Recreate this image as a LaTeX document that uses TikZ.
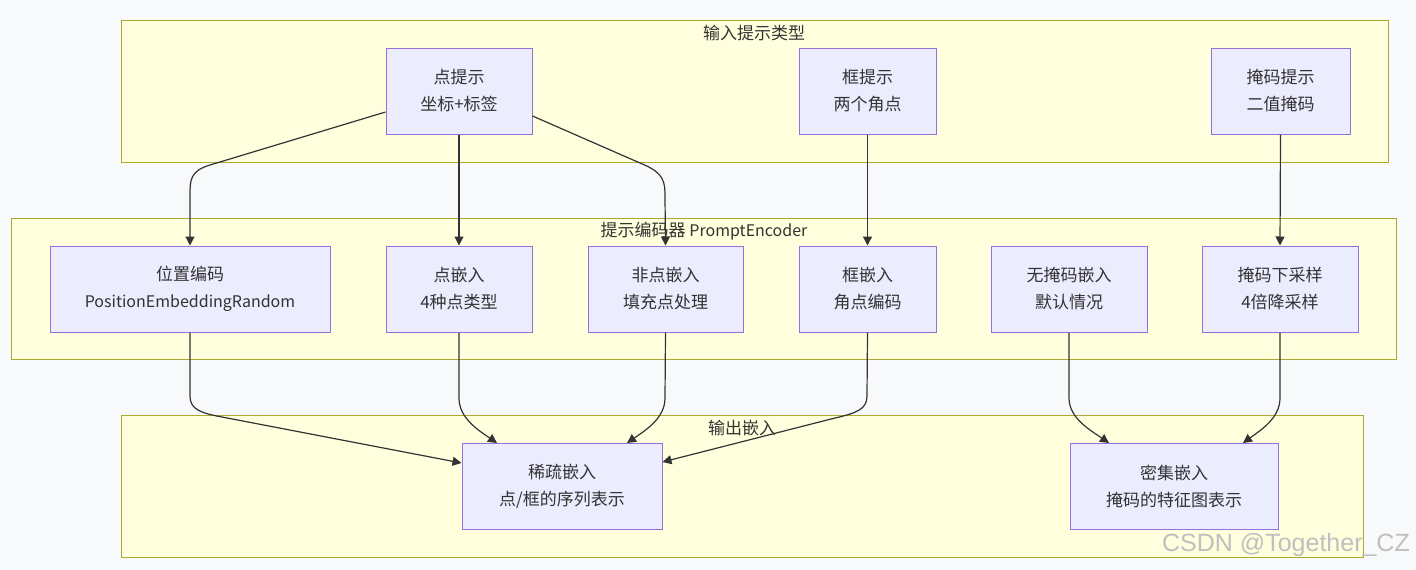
\documentclass[tikz,border=0pt]{standalone}
\usepackage{fontspec}
\setmainfont{Noto Sans CJK SC}
\newfontfamily\wmfont{Liberation Sans}
\usetikzlibrary{arrows.meta}
\definecolor{bgc}{HTML}{F8F9FB}
\definecolor{clfill}{HTML}{FFFFDE}
\definecolor{cldraw}{HTML}{AAAA33}
\definecolor{ndfill}{HTML}{ECECFF}
\definecolor{nddraw}{HTML}{9370DB}
\definecolor{txt}{HTML}{333333}
\newcommand{\lat}[1]{{\fontsize{16}{27}\selectfont #1}}
\begin{document}
\begin{tikzpicture}[x=1pt,y=-1pt,
  cluster/.style={draw=cldraw, fill=clfill, line width=1pt, inner sep=0pt},
  cltitle/.style={text=txt, font=\fontsize{17}{20}\selectfont, inner sep=0pt},
  box/.style={draw=nddraw, fill=ndfill, line width=1pt, align=center, inner sep=0pt,
    minimum height=86pt, text=txt, font=\fontsize{17}{27}\selectfont},
  arr/.style={draw=txt, line width=1.2pt, -{Triangle[length=9pt,width=9pt]}}
]
\fill[bgc] (0,0) rectangle (1416,570);
\useasboundingbox (0,0) rectangle (1416,570);

% clusters
\node[cluster, minimum width=1267pt, minimum height=142pt] (c1) at (754.5,91) {};
\node[cltitle] (t1) at (754,33) {输入提示类型};
\node[cluster, minimum width=1385pt, minimum height=141pt] (c2) at (703.5,288.5) {};
\node[cltitle] (t2) at (704,231) {提示编码器 \lat{PromptEncoder}};
\node[cluster, minimum width=1242pt, minimum height=142pt] (c3) at (742,486) {};
\node[cltitle] (t3) at (742,428) {输出嵌入};

% row 1
\node[box, minimum width=146pt] (p1) at (459,91) {点提示\\坐标+标签};
\node[box, minimum width=137pt] (p2) at (867.5,91) {框提示\\两个角点};
\node[box, minimum width=139pt] (p3) at (1280.5,91) {掩码提示\\二值掩码};

% row 2
\node[box, minimum width=280pt] (e1) at (190,289) {位置编码\\\lat{PositionEmbeddingRandom}};
\node[box, minimum width=146pt] (e2) at (459,289) {点嵌入\\4种点类型};
\node[box, minimum width=155pt] (e3) at (665.5,289) {非点嵌入\\填充点处理};
\node[box, minimum width=137pt] (e4) at (867.5,289) {框嵌入\\角点编码};
\node[box, minimum width=156pt] (e5) at (1069,289) {无掩码嵌入\\默认情况};
\node[box, minimum width=156pt] (e6) at (1280,289) {掩码下采样\\4倍降采样};

% row 3
\node[box, minimum width=200pt] (o1) at (562,486) {稀疏嵌入\\点/框的序列表示};
\node[box, minimum width=208pt] (o2) at (1174,486) {密集嵌入\\掩码的特征图表示};

% edges top
\draw[arr] ([yshift=-21pt]p1.west) -- (210,165) .. controls (190,171) and (190,180) .. (190,196) -- (e1.north);
\draw[arr] (p1.south) -- (e2.north);
\draw[arr] ([yshift=-25pt]p1.east) -- (640,163) .. controls (665,173) and (665,182) .. (665,198) -- (e3.north);
\draw[arr] (p2.south) -- (e4.north);
\draw[arr] (p3.south) -- (e6.north);

% edges bottom
\draw[arr] (e1.south) -- (190,396) .. controls (190,409) and (200,413) .. (222,417) -- ([yshift=23pt]o1.west);
\draw[arr] (e2.south) -- (459,398) .. controls (459,418) and (478,430) .. (497,443);
\draw[arr] (e3.south) -- (665,398) .. controls (665,418) and (646,430) .. (627,443);
\draw[arr] (e4.south) -- (867,396) .. controls (867,409) and (857,413) .. (835,418) -- ([yshift=24pt]o1.east);
\draw[arr] (e5.south) -- (1069,398) .. controls (1069,418) and (1090,430) .. (1109,443);
\draw[arr] (e6.south) -- (1280,398) .. controls (1280,418) and (1261,430) .. (1243,443);

% watermark
\node[text=black!25, font=\wmfont\fontsize{25}{28}\selectfont, inner sep=0pt] (wm) at (1286,545) {CSDN @Together\_CZ};
\end{tikzpicture}
\end{document}
